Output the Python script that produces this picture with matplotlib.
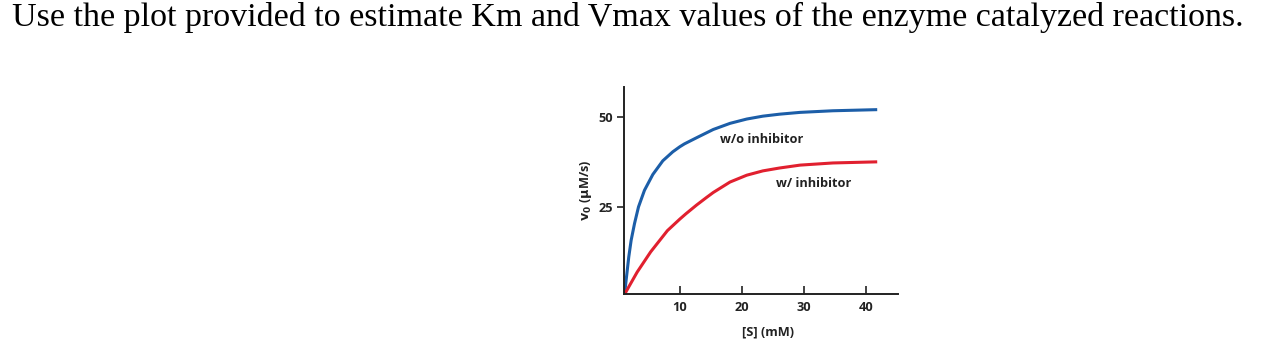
import matplotlib
matplotlib.use('Agg')
import matplotlib.pyplot as plt

# substrate concentration (mM) and initial velocity (uM/s)
s_free = [1.1, 1.3, 1.5, 1.77, 2.15, 2.7, 3.34, 4.3, 5.65, 7.26, 8.87, 10.0, 10.75,
          12.7, 15.4, 18.1, 20.8, 23.4, 26.1, 29.4, 34.7, 41.6]
v_free = [0.75, 4.0, 7.0, 11.1, 15.7, 20.4, 25.0, 29.6, 34.0, 37.8, 40.3, 41.7, 42.5,
          44.2, 46.5, 48.2, 49.4, 50.2, 50.75, 51.25, 51.7, 52.0]

s_inh = [1.1, 3.13, 5.3, 8.0, 10.0, 11.0, 12.7, 14.3, 15.4, 18.1, 20.8, 23.4, 26.1,
         29.4, 34.7, 41.6]
v_inh = [0.75, 6.9, 12.5, 18.4, 21.6, 23.1, 25.5, 27.6, 29.0, 31.9, 33.8, 35.0, 35.8,
         36.6, 37.2, 37.5]

x_ticks = [10, 20, 30, 40]
y_ticks = [25, 50]

blue = '#1c5ea8'
red = '#e1202f'
ink = '#222222'
fs = 9.2

fig = plt.figure(figsize=(12.63, 3.45), dpi=100)
fig.text(12 / 1263, 1 - 26 / 345, 'Use the plot provided to estimate Km and Vmax values of the enzyme catalyzed reactions.',
         family='Liberation Serif', fontsize=24.5, va='baseline', ha='left')

ax = fig.add_axes([624 / 1263, 1 - 294 / 345, 274 / 1263, 207 / 345])
ax.plot(s_free, v_free, color=blue, lw=2.2, solid_joinstyle='round')
ax.plot(s_inh, v_inh, color=red, lw=2.2, solid_joinstyle='round')

ax.set_xlim(1, 45.2)
ax.set_ylim(0.8, 58.3)
for side in ['top', 'right']:
    ax.spines[side].set_visible(False)
for side in ['left', 'bottom']:
    ax.spines[side].set_linewidth(1.4)
    ax.spines[side].set_color(ink)

ax.set_xticks(x_ticks)
ax.set_yticks(y_ticks)
ax.tick_params(axis='x', direction='in', length=6, width=1.2, pad=5, colors=ink)
ax.tick_params(axis='y', direction='out', length=5, width=1.2, pad=3, colors=ink)
for lab in ax.get_xticklabels() + ax.get_yticklabels():
    lab.set_fontfamily('Open Sans')
    lab.set_fontweight('bold')
    lab.set_fontsize(fs)

ax.set_xlabel('[S] (mM)', family='Open Sans', fontweight='bold', fontsize=fs, color=ink)
ax.xaxis.set_label_coords(0.526, -0.15)
ax.set_ylabel(r'$\mathbf{v_0}$ ($\mathbf{\mu}$M/s)', family='Open Sans', fontweight='bold', fontsize=fs,
              labelpad=3, color=ink)

ax.text(16.5, 42.8, 'w/o inhibitor', family='Open Sans', fontweight='bold', fontsize=fs, color=ink, va='baseline')
ax.text(25.6, 30.6, 'w/ inhibitor', family='Open Sans', fontweight='bold', fontsize=fs, color=ink, va='baseline')

fig.savefig('out.png', dpi=100)
